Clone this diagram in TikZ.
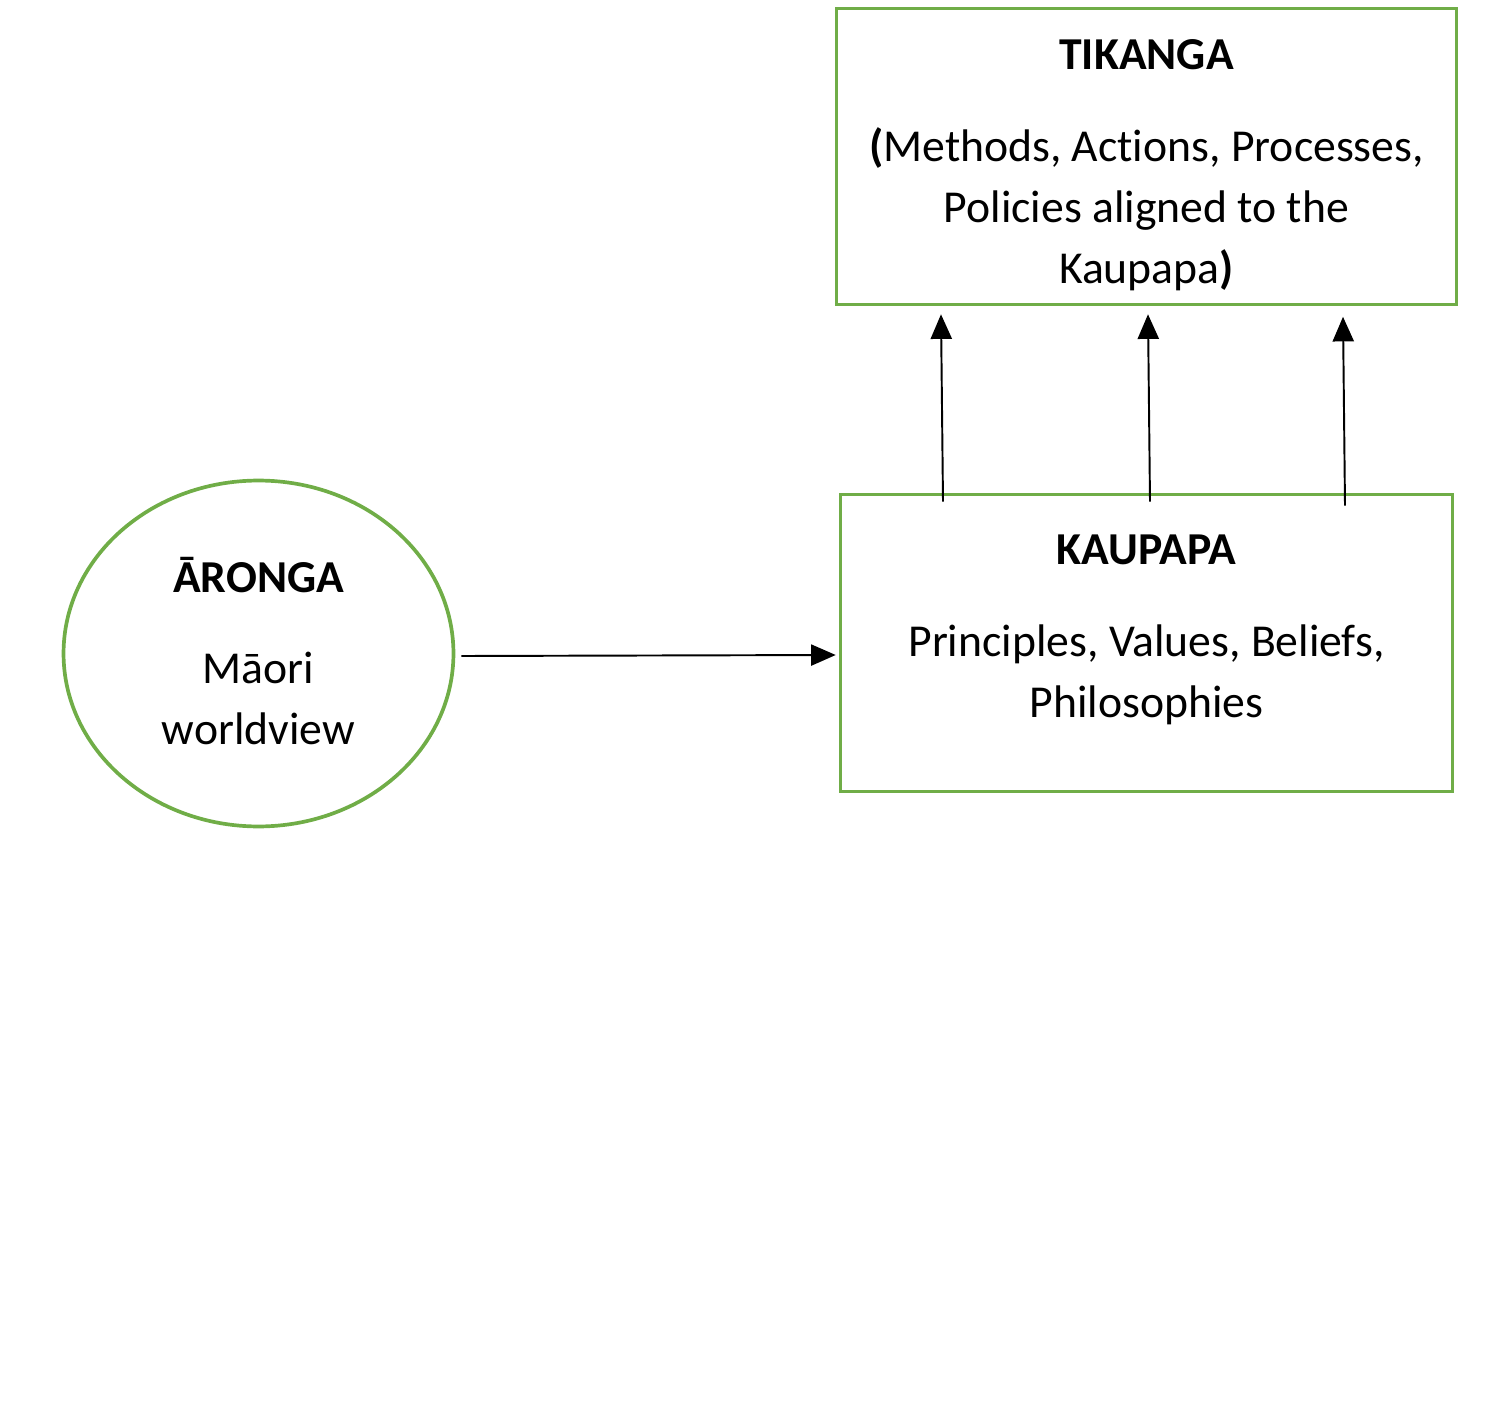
\documentclass[tikz,border=0pt]{standalone}
\usepackage{fontspec}
\setmainfont[Ligatures=NoCommon]{Carlito}
\usetikzlibrary{shapes,arrows.meta,positioning,calc}
\definecolor{leafgreen}{RGB}{112,173,71}

\begin{document}
\begin{tikzpicture}[x=0.02cm,y=-0.02cm,
		box/.style={draw=leafgreen,line width=2.1pt},
		txt/.style={align=center,font=\fontsize{26}{34.7}\selectfont},
		flow/.style={-{Triangle[length=14pt,width=12pt]},line width=1.1pt}]
		\useasboundingbox (0,0) rectangle (1495,1419);
		\node[box,ellipse,minimum width=7.8cm,minimum height=6.92cm] (aronga) at (258.5,653.5) {};
		\node[box,minimum width=12.4cm,minimum height=5.92cm] (tikanga) at (1146.5,156.5) {};
		\node[box,minimum width=12.24cm,minimum height=5.94cm] (kaupapa) at (1146.5,643) {};
		\node[txt] (aronga-text) at ($(aronga.center)+(0,-2.5)$) {\textbf{ĀRONGA}\\[17.6pt] Māori\\ worldview};
		\node[txt] (tikanga-text) at ($(tikanga.center)+(0,9)$) {\textbf{TIKANGA}\\[17.6pt] \textbf{(}Methods, Actions, Processes,\\ Policies aligned to the\\ Kaupapa\textbf{)}};
		\node[txt] (kaupapa-text) at ($(kaupapa.center)+(0,-13.5)$) {\textbf{KAUPAPA}\\[17.6pt] Principles, Values, Beliefs,\\ Philosophies};
		\coordinate (k1) at ($(kaupapa.north)+(-203.5,9)$);
		\coordinate (k2) at ($(kaupapa.north)+(3.5,9)$);
		\coordinate (k3) at ($(kaupapa.north)+(198.5,13)$);
		\coordinate (t1) at ($(tikanga.south)+(-205.5,8)$);
		\coordinate (t2) at ($(tikanga.south)+(1.5,8)$);
		\coordinate (t3) at ($(tikanga.south)+(196.5,10.5)$);
		\foreach \i in {1,2,3} { \draw[flow] (k\i) -- (t\i);}
		\draw[flow] ($(aronga.east)+(6,2.5)$) -- ($(aronga.east -| kaupapa.west)+(-3,1.5)$);
	\end{tikzpicture}
\end{document}
